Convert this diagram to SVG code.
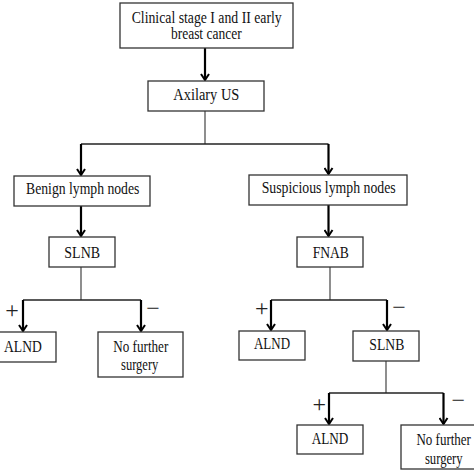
<svg xmlns="http://www.w3.org/2000/svg" width="474" height="474" viewBox="0 0 474 474">
<defs>
<style>
.box{fill:#fff;stroke:#333;stroke-width:1.3}
.t{font-family:"Liberation Serif","Times New Roman",serif;font-size:16px;fill:#111;text-anchor:middle}
.s{font-family:"Liberation Serif","Times New Roman",serif;font-size:24px;fill:#222;text-anchor:middle}
.arr{stroke:#000;stroke-width:2.2;fill:none;marker-end:url(#ah)}
.ln{stroke:#444;stroke-width:1.2;fill:none}
.hl{stroke:#222;stroke-width:1.6;fill:none}
</style>
<marker id="ah" viewBox="0 0 8 10" markerWidth="8" markerHeight="10" refX="7" refY="5" markerUnits="userSpaceOnUse" orient="auto">
<path d="M1,1 L7,5 L1,9" fill="none" stroke="#000" stroke-width="2"/>
</marker>
</defs>
<rect width="474" height="474" fill="#fff"/>
<g id="connectors">
<line class="arr" x1="205" y1="48" x2="205" y2="80"/>
<line class="ln" x1="205" y1="111" x2="205" y2="144"/>
<line class="hl" x1="81" y1="144" x2="328.5" y2="144"/>
<line class="arr" x1="81" y1="144" x2="81" y2="175"/>
<line class="arr" x1="328.5" y1="144" x2="328.5" y2="174"/>
<line class="arr" x1="81" y1="206" x2="81" y2="236"/>
<line class="arr" x1="328.5" y1="205" x2="328.5" y2="236"/>
<line class="ln" x1="81" y1="267" x2="81" y2="300"/>
<line class="hl" x1="23" y1="300" x2="141" y2="300"/>
<line class="arr" x1="23" y1="300" x2="23" y2="331"/>
<line class="arr" x1="141" y1="300" x2="141" y2="331"/>
<line class="ln" x1="330" y1="267" x2="330" y2="300"/>
<line class="hl" x1="271" y1="300" x2="387" y2="300"/>
<line class="arr" x1="271" y1="300" x2="271" y2="330"/>
<line class="arr" x1="387" y1="300" x2="387" y2="330"/>
<line class="ln" x1="386" y1="361" x2="386" y2="393"/>
<line class="hl" x1="329" y1="393" x2="443.5" y2="393"/>
<line class="arr" x1="329" y1="393" x2="329" y2="424"/>
<line class="arr" x1="443.5" y1="393" x2="443.5" y2="424"/>
<text class="s" x="12" y="317.8">+</text>
<text class="s" x="153" y="316.2">−</text>
<text class="s" x="261.7" y="316.1">+</text>
<text class="s" x="399" y="315.2">−</text>
<text class="s" x="319.3" y="412.1">+</text>
<text class="s" x="458.3" y="407.9">−</text>
</g>
<g id="n-stage">
<rect class="box" x="120" y="3" width="173" height="45"/>
<text class="t" x="206.7" y="22.7" textLength="150" lengthAdjust="spacingAndGlyphs">Clinical  stage I and II early</text>
<text class="t" x="206.3" y="39.3" textLength="70.7" lengthAdjust="spacingAndGlyphs">breast cancer</text>
</g>
<g id="n-us">
<rect class="box" x="148" y="81" width="116" height="30"/>
<text class="t" x="206.3" y="99.5" textLength="66" lengthAdjust="spacingAndGlyphs">Axilary  US</text>
</g>
<g id="n-benign">
<rect class="box" x="14" y="176" width="136" height="30"/>
<text class="t" x="82.7" y="193.5" textLength="113.3" lengthAdjust="spacingAndGlyphs">Benign  lymph  nodes</text>
</g>
<g id="n-susp">
<rect class="box" x="249" y="175" width="158" height="30"/>
<text class="t" x="328.7" y="192.5" textLength="134" lengthAdjust="spacingAndGlyphs">Suspicious  lymph  nodes</text>
</g>
<g id="n-slnb1">
<rect class="box" x="49" y="237" width="66" height="30"/>
<text class="t" x="82.2" y="257.7" textLength="35.7" lengthAdjust="spacingAndGlyphs">SLNB</text>
</g>
<g id="n-fnab">
<rect class="box" x="297" y="237" width="66" height="30"/>
<text class="t" x="330.8" y="257.5" textLength="36.3" lengthAdjust="spacingAndGlyphs">FNAB</text>
</g>
<g id="n-alnd1">
<rect class="box" x="-10" y="332" width="66" height="30"/>
<text class="t" x="22.9" y="351.7" textLength="37.7" lengthAdjust="spacingAndGlyphs">ALND</text>
</g>
<g id="n-nfs1">
<rect class="box" x="98" y="332" width="85" height="45"/>
<text class="t" x="140.8" y="351.7" textLength="55" lengthAdjust="spacingAndGlyphs">No further</text>
<text class="t" x="139.7" y="370" textLength="37.3" lengthAdjust="spacingAndGlyphs">surgery</text>
</g>
<g id="n-alnd2">
<rect class="box" x="239" y="331" width="66" height="29"/>
<text class="t" x="272" y="349.3" textLength="36" lengthAdjust="spacingAndGlyphs">ALND</text>
</g>
<g id="n-slnb2">
<rect class="box" x="353" y="331" width="66" height="30"/>
<text class="t" x="386.8" y="350" textLength="35" lengthAdjust="spacingAndGlyphs">SLNB</text>
</g>
<g id="n-alnd3">
<rect class="box" x="297" y="425" width="66" height="29"/>
<text class="t" x="330" y="444" textLength="36.7" lengthAdjust="spacingAndGlyphs">ALND</text>
</g>
<g id="n-nfs2">
<rect class="box" x="401" y="425" width="85" height="44"/>
<text class="t" x="443.7" y="445.3" textLength="54.5" lengthAdjust="spacingAndGlyphs">No further</text>
<text class="t" x="443.8" y="463.5" textLength="37.7" lengthAdjust="spacingAndGlyphs">surgery</text>
</g>
</svg>
